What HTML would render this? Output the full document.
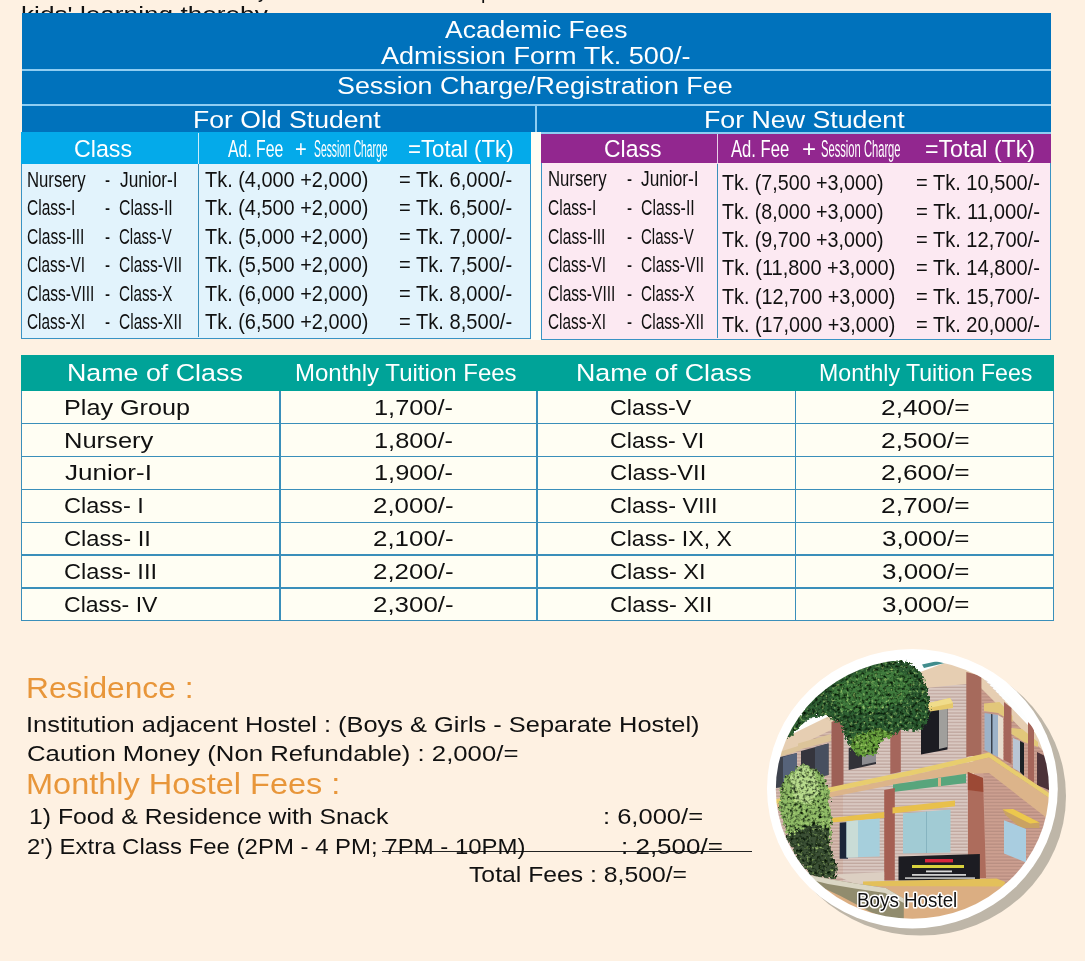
<!DOCTYPE html>
<html lang="en">
<head>
<meta charset="utf-8">
<title>Academic Fees</title>
<style>
html,body{margin:0;padding:0}
body{width:1085px;height:961px;position:relative;overflow:hidden;background:#fef1e2;font-family:"Liberation Sans",sans-serif}
.t{position:absolute;white-space:pre;line-height:1;transform-origin:0 0;z-index:3}
.b{position:absolute;box-sizing:border-box}
.hdr{left:22px;top:13px;width:1029px;height:120px;background:#0072bc;z-index:1}
.ln{position:absolute;background:#8fcdf2;z-index:2}
.old-h{left:21.3px;top:132px;width:509.5px;height:31.7px;background:#04aaea;z-index:2}
.old-b{left:21.3px;top:163.7px;width:510.2px;height:175px;background:#e2f3fc;border:1.3px solid #3a93c4;border-top:0;z-index:2}
.new-h{left:541.2px;top:133.5px;width:510.2px;height:29.5px;background:#92278f;z-index:2}
.new-b{left:541.2px;top:163px;width:510.2px;height:176.6px;background:#fce9f2;border:1.3px solid #3a93c4;border-top:0;z-index:2}
.tu-h{left:21.3px;top:354.9px;width:1032.6px;height:36px;background:#00a398;z-index:2}
.tu-b{left:21.3px;top:390.8px;width:1032.6px;height:230.7px;background:#fffef3;border:1.3px solid #3a8fba;border-top:0;z-index:2}
.gl{position:absolute;background:#3a8fba;z-index:2}
</style>
</head>
<body>
<div class="b hdr"></div>
<div class="ln" style="left:22px;top:69.3px;width:1029px;height:1.5px"></div>
<div class="ln" style="left:22px;top:104px;width:1029px;height:1.5px"></div>
<div class="ln" style="left:535.3px;top:105px;width:1.6px;height:27px"></div>
<div class="ln" style="left:541px;top:132px;width:510px;height:1.5px"></div>

<div class="b" style="left:531.4px;top:132px;width:9.8px;height:207.6px;background:#fffdf4;z-index:2"></div>
<div class="b old-h"></div>
<div class="b old-b"></div>
<div class="ln" style="left:197.8px;top:133px;width:1.3px;height:31px;background:#c8ecfb"></div>
<div class="gl" style="left:197.8px;top:164px;width:1.3px;height:173px"></div>

<div class="b new-h"></div>
<div class="b new-b"></div>
<div class="ln" style="left:716.5px;top:134px;width:1.3px;height:29.5px;background:#e9cfe8"></div>
<div class="gl" style="left:716.5px;top:163.5px;width:1.3px;height:174.5px"></div>

<div class="b tu-h"></div>
<div class="b tu-b"></div>
<div class="gl" style="left:21.8px;top:422.7px;width:1031.6px;height:1.5px"></div>
<div class="gl" style="left:21.8px;top:455.6px;width:1031.6px;height:1.5px"></div>
<div class="gl" style="left:21.8px;top:488.6px;width:1031.6px;height:1.5px"></div>
<div class="gl" style="left:21.8px;top:521.5px;width:1031.6px;height:1.5px"></div>
<div class="gl" style="left:21.8px;top:554.2px;width:1031.6px;height:1.5px"></div>
<div class="gl" style="left:21.8px;top:587px;width:1031.6px;height:1.5px"></div>
<div class="gl" style="left:279px;top:390.5px;width:1.5px;height:230px"></div>
<div class="gl" style="left:536.2px;top:390.5px;width:1.5px;height:230px"></div>
<div class="gl" style="left:794.7px;top:390.5px;width:1.5px;height:230px"></div>

<div class="b" style="left:382px;top:851.1px;width:370px;height:1.3px;background:#222;z-index:2"></div>

<svg style="position:absolute;left:755px;top:640px;z-index:2" width="330" height="321" viewBox="755 640 330 321">
<defs>
<clipPath id="pc"><ellipse cx="912.4" cy="789.2" rx="136.6" ry="129.6"/></clipPath>
<pattern id="br" width="6" height="3.2" patternUnits="userSpaceOnUse"><rect width="6" height="3.2" fill="none"/><rect y="2" width="6" height="1.1" fill="#9a7468" opacity=".45"/></pattern>
<filter id="fol" x="-10%" y="-10%" width="120%" height="120%" color-interpolation-filters="sRGB">
<feTurbulence type="fractalNoise" baseFrequency="0.32" numOctaves="2" seed="4" result="n"/>
<feDisplacementMap in="SourceGraphic" in2="n" scale="8" xChannelSelector="R" yChannelSelector="G" result="d"/>
<feColorMatrix in="n" type="matrix" values="0 0 0 0 0  0 0 0 0 0.05  0 0 0 0 0  0 2.4 0 0 -1.05" result="dk"/>
<feComposite in="dk" in2="d" operator="in" result="spk"/>
<feColorMatrix in="n" type="matrix" values="0 0 0 0 0.75  0 0 0 0 0.9  0 0 0 0 0.5  0 0 2.6 0 -1.5" result="lt"/>
<feComposite in="lt" in2="d" operator="in" result="spl"/>
<feMerge><feMergeNode in="d"/><feMergeNode in="spk"/><feMergeNode in="spl"/></feMerge>
</filter>
<filter id="soft" x="-5%" y="-5%" width="110%" height="110%"><feGaussianBlur stdDeviation="0.55"/></filter>
</defs>
<ellipse cx="920.6" cy="795.9" rx="145.4" ry="139.7" fill="#beb6a8"/>
<ellipse cx="912.4" cy="788.7" rx="145.4" ry="139.7" fill="#fff"/>
<g clip-path="url(#pc)"><g filter="url(#soft)">
<rect x="770" y="655" width="290" height="270" fill="#fdfefe"/>
<!-- front wall -->
<polygon points="770,752 951,663 967,670 968,886 770,886" fill="#d6bcb0"/>
<polygon points="843,722 951,668 967,674 968,886 843,886" fill="#d9c8c1"/>
<polygon points="770,752 951,663 967,670 968,886 770,886" fill="url(#br)"/>
<!-- right face -->
<polygon points="974,674 1060,762 1060,900 974,880" fill="#cc9f90"/>
<polygon points="981,674 1060,762 1060,900 986,880" fill="url(#br)"/>
<!-- roof overhang underside / fascia -->
<polygon points="770,745 915,674 951,660.5 968,670 981,676 1048,746 1048,756 981,688 966,684 915,689 843,724 770,760" fill="#e6ceb2"/>
<polygon points="922,664.5 949.5,658.5 951,661.5 924,668" fill="#3f8c8c"/>
<!-- upper-left windows -->
<polygon points="779,752 800,745.5 800,750.5 779,757" fill="#dcc49a"/>
<polygon points="798,743.5 831,734 831,741 798,750" fill="#dcc49a"/>
<polygon points="776,758 797,753 797,785 776,788" fill="#3c424e"/>
<polygon points="783,757 797,753 797,781 783,784" fill="#56647a"/>
<polygon points="801,751 828.5,743.5 828.5,775 801,780" fill="#34343e"/>
<polygon points="815,747 828.5,743.5 828.5,775 815,777" fill="#47505e"/>
<!-- pillars upper -->
<polygon points="831.5,722 843.5,717 843.5,786 831.5,789" fill="#9d6056"/>
<polygon points="890.3,733 900.8,730 900.8,772 890.3,774" fill="#a5665b"/>
<!-- window under tree -->
<polygon points="848.7,748 876,742 876,764 848.7,770" fill="#313038"/>
<polygon points="862,756 876,753 876,762 862,765" fill="#8d8c90"/>
<!-- upper right front window -->
<polygon points="921,712 947.5,706 947.5,749.5 921,754.5" fill="#1d1d24"/>
<polygon points="939,706 947.5,704.5 947.5,747 939,749" fill="#a09f9c"/>
<polygon points="927,703.5 950,698 953,703 953,708 930,711.5" fill="#e6c96c"/>
<polygon points="927,703.5 950,698 953,703 929,708" fill="#f0dc8a"/>
<!-- corner pillar -->
<polygon points="966.3,672 981.4,676 981.4,755 966.3,757" fill="#a66a5c"/>
<!-- right face upper details -->
<polygon points="984,703.5 999.5,702 1012.5,716 1012.5,722 998,713 984,711" fill="#e2c77a"/>
<polygon points="984.5,713 998,715 998,757 984.5,750" fill="#9db2c8"/>
<polygon points="991,714 992.5,714.3 992.5,754 991,753.3" fill="#39404c"/>
<polygon points="998,715 1003,718 1003,760 998,757" fill="#e8dccd"/>
<polygon points="1004,702 1011.5,708 1011.5,764 1004,760" fill="#a5655a"/>
<polygon points="1011.5,728 1022,729 1038,742 1038,747 1024,742 1011.5,734" fill="#e2c77a"/>
<polygon points="1013,738 1020,741 1020,772 1013,768" fill="#b9c6d4"/>
<polygon points="1020,741 1024,743 1024,776 1020,772" fill="#1f2026"/>
<polygon points="1028,722 1034,728 1034,783 1028,779" fill="#a5655a"/>
<polygon points="1037,752 1049,758 1049,790 1037,785" fill="#4b3038"/>
<!-- mid ledge -->
<polygon points="770,806 831.4,792 915,774.5 989,757.5 1052,800 1052,822 989,773 967,774 915,780.5 831.4,797 770,810" fill="#dcb48a"/>
<polygon points="770,800.5 831.4,787 915,769.5 989,752.5 1052,795 1052,800 989,757.5 915,774.5 831.4,792 770,805.5" fill="#e8cd6e"/>
<!-- green sign & lower pillar top -->
<polygon points="893,784.5 966,773.8 966,783 893,792" fill="#58a57c"/>
<polygon points="938,778 941,777.6 941,786 938,786.4" fill="#dcb48a"/>
<polygon points="967.8,772 983,778 986,878 968,878" fill="#ad6c5c"/>
<polygon points="967.8,772 983,778 983.3,792 967.8,790" fill="#9c4a36"/>
<!-- lower right face -->
<polygon points="1002.5,809.6 1013,808.9 1039.5,822.4 1039.5,828 1020.6,828 1005.5,815" fill="#caa262"/>
<polygon points="1002.5,809.6 1013,808.9 1039.5,822.4 1030,823.5" fill="#ecc84e"/>
<polygon points="1004,820.2 1026,829 1026,862.4 1004,853.4" fill="#a9cde0"/>
<!-- ground floor front: windows, shades, pillars -->
<polygon points="884.2,790 894.8,788 894.8,880.5 884.2,880.5" fill="#a55f52"/>
<polygon points="831.4,817.9 884.2,811.9 884.2,817.9 831.4,822.6" fill="#e8c04c"/>
<polygon points="839.7,822.8 848,822 848,858.7 839.7,858.7" fill="#1c2838"/>
<polygon points="846.5,821.5 879.7,818.5 879.7,856.5 846.5,857.5" fill="#a6cfdc"/>
<polygon points="846.5,821.5 858,820.5 858,857.2 846.5,857.5" fill="#c9dcd6"/>
<polygon points="892.5,807.5 955,800.5 955,806.3 892.5,813.4" fill="#e8c04c"/>
<polygon points="903,813.5 950.5,809.5 950.5,852.6 903,853.4" fill="#a1cbd4"/>
<polygon points="926,811.7 927,811.6 927,853 926,853" fill="#86b4c0"/>
<!-- sign board -->
<polygon points="898.5,856.4 979.9,854 979.9,880.5 898.5,880.5" fill="#1f1f22"/>
<rect x="925" y="859" width="28" height="3.4" fill="#d8283c"/>
<rect x="912" y="865" width="52" height="3" fill="#d8d23c"/>
<rect x="926" y="870.5" width="26" height="1.8" fill="#d9d9d9"/>
<rect x="912" y="874" width="54" height="1.8" fill="#cfcfcf"/>
<rect x="905" y="877.3" width="70" height="1.6" fill="#c4c4c4"/>
<!-- ground -->
<polygon points="834,874.5 884.2,872 884.2,882 855,884" fill="#dccfc2"/>
<polygon points="770,886 1060,886 1060,930 770,930" fill="#dbae82"/>
<polygon points="863,881.5 996.5,878.5 1005.5,882 1003,886.5 863,886" fill="#e3c05a"/>
<!-- trees --><g filter="url(#fol)">
<path d="M786,737 L792,723 L804,708 L815,695 L830,683 L846,672 L865,663 L889,659 L907,661.5 L915,667.5 L922.5,675 L928.6,695 L930,717 L921,729.5 L915,731 L901,729.5 L893,735.5 L880,741.5 L877,753.5 L858.6,756.7 L851,747.6 L845,735.5 L840.5,723.5 L825.4,716 L810.3,717.4 L799.7,726.5 L789,738.6 Z" fill="#2f5e33"/>
<path d="M852,736 L880,728 L893,735.5 L880,741.5 L877,753.5 L858.6,756.7 L851,747.6 Z" fill="#6aa23e"/>
<path d="M830,690 L860,672 L895,668 L915,680 L905,700 L870,712 L840,710 Z" fill="#3f7a3c"/>
<path d="M780,790 L785,777 L795,770 L803,762.5 L812,768 L820,772 L826,781 L829,790 L831.4,820 L830,853.4 L837.4,868.5 L834.4,879 L810.3,874.5 L795.2,850.4 L783.1,823.2 L778.6,805 Z" fill="#8fba66"/>
<path d="M786,836 L800,829 L815,824 L829,829 L831,853.4 L838,868.5 L835,879 L810.3,876 L797,858 Z" fill="#3b5034"/>
<path d="M790,776 L803,764 L815,772 L820,790 L810,805 L795,800 Z" fill="#b7da8c"/>
</g><!-- low wall -->
<polygon points="810.3,875.3 828.4,879 855.5,883.6 885.7,888 903.8,898.6 903.8,925 870.6,912 840.5,896 814.8,884" fill="#918c6e"/>
<polygon points="810.3,875.3 828.4,879 855.5,883.6 885.7,888 903.8,898.6 903.8,903 885,893 855,888.5 828,884 812,880" fill="#dad6c4"/>
</g><text x="857" y="907" font-family="'Liberation Sans',sans-serif" font-size="20.9" textLength="100.3" lengthAdjust="spacingAndGlyphs" fill="#111" stroke="#fff" stroke-width="3.2" stroke-linejoin="round" paint-order="stroke">Boys Hostel</text>

</g>
</svg>

<span class="t" style="left:21.10px;top:4px;font-size:21.8px;color:#111;transform:scaleX(1.2021);z-index:0;">kids&#x27; learning thereby</span>
<span class="t" style="left:257.50px;top:-21px;font-size:21.8px;color:#111;transform:scaleX(0.9091);z-index:0;">y</span>
<span class="t" style="left:480.59px;top:-20px;font-size:21.8px;color:#111;transform:scaleX(0.9091);z-index:0;">p</span>
<span class="t" style="left:444.50px;top:19px;font-size:23.55px;color:#fff;transform:scaleX(1.1238);">Academic Fees</span>
<span class="t" style="left:380.80px;top:45px;font-size:23.55px;color:#fff;transform:scaleX(1.1500);">Admission Form Tk. 500/-</span>
<span class="t" style="left:336.86px;top:75px;font-size:23.55px;color:#fff;transform:scaleX(1.1407);">Session Charge/Registration Fee</span>
<span class="t" style="left:193.37px;top:109px;font-size:23.55px;color:#fff;transform:scaleX(1.1293);">For Old Student</span>
<span class="t" style="left:703.86px;top:109px;font-size:23.55px;color:#fff;transform:scaleX(1.1355);">For New Student</span>
<span class="t" style="left:73.72px;top:138px;font-size:23.69px;color:#fff;transform:scaleX(0.9811);">Class</span>
<span class="t" style="left:227.70px;top:138px;font-size:23.69px;color:#fff;transform:scaleX(0.6668);">Ad. Fee</span>
<span class="t" style="left:294.95px;top:138px;font-size:23.69px;color:#fff;transform:scaleX(0.8500);">+</span>
<span class="t" style="left:313.56px;top:138px;font-size:23.69px;color:#fff;transform:scaleX(0.4362);">Session Charge</span>
<span class="t" style="left:407.86px;top:138px;font-size:23.69px;color:#fff;transform:scaleX(0.9381);">=Total (Tk)</span>
<span class="t" style="left:604.43px;top:138px;font-size:23.69px;color:#fff;transform:scaleX(0.9689);">Class</span>
<span class="t" style="left:731.00px;top:138px;font-size:23.69px;color:#fff;transform:scaleX(0.7007);">Ad. Fee</span>
<span class="t" style="left:801.58px;top:138px;font-size:23.69px;color:#fff;transform:scaleX(1.0167);">+</span>
<span class="t" style="left:820.83px;top:138px;font-size:23.69px;color:#fff;transform:scaleX(0.4720);">Session Charge</span>
<span class="t" style="left:925.02px;top:138px;font-size:23.69px;color:#fff;transform:scaleX(0.9779);">=Total (Tk)</span>
<span class="t" style="left:26.62px;top:170px;font-size:21.37px;color:#111;transform:scaleX(0.7828);">Nursery</span>
<span class="t" style="left:105.00px;top:170px;font-size:21.37px;color:#111;transform:scaleX(0.7143);">-</span>
<span class="t" style="left:119.50px;top:170px;font-size:21.37px;color:#111;transform:scaleX(0.8082);">Junior-I</span>
<span class="t" style="left:548.42px;top:169px;font-size:21.37px;color:#111;transform:scaleX(0.7828);">Nursery</span>
<span class="t" style="left:627.00px;top:169px;font-size:21.37px;color:#111;transform:scaleX(0.7143);">-</span>
<span class="t" style="left:641.40px;top:169px;font-size:21.37px;color:#111;transform:scaleX(0.8082);">Junior-I</span>
<span class="t" style="left:26.67px;top:198px;font-size:21.37px;color:#111;transform:scaleX(0.7257);">Class-I</span>
<span class="t" style="left:105.00px;top:198px;font-size:21.37px;color:#111;transform:scaleX(0.7143);">-</span>
<span class="t" style="left:118.76px;top:198px;font-size:21.37px;color:#111;transform:scaleX(0.7415);">Class-II</span>
<span class="t" style="left:548.47px;top:198px;font-size:21.37px;color:#111;transform:scaleX(0.7257);">Class-I</span>
<span class="t" style="left:627.00px;top:198px;font-size:21.37px;color:#111;transform:scaleX(0.7143);">-</span>
<span class="t" style="left:640.66px;top:198px;font-size:21.37px;color:#111;transform:scaleX(0.7415);">Class-II</span>
<span class="t" style="left:26.67px;top:227px;font-size:21.37px;color:#111;transform:scaleX(0.7335);">Class-III</span>
<span class="t" style="left:105.00px;top:227px;font-size:21.37px;color:#111;transform:scaleX(0.7143);">-</span>
<span class="t" style="left:118.80px;top:227px;font-size:21.37px;color:#111;transform:scaleX(0.7045);">Class-V</span>
<span class="t" style="left:548.47px;top:227px;font-size:21.37px;color:#111;transform:scaleX(0.7335);">Class-III</span>
<span class="t" style="left:627.00px;top:227px;font-size:21.37px;color:#111;transform:scaleX(0.7143);">-</span>
<span class="t" style="left:640.70px;top:227px;font-size:21.37px;color:#111;transform:scaleX(0.7045);">Class-V</span>
<span class="t" style="left:26.68px;top:255px;font-size:21.37px;color:#111;transform:scaleX(0.7201);">Class-VI</span>
<span class="t" style="left:105.00px;top:255px;font-size:21.37px;color:#111;transform:scaleX(0.7143);">-</span>
<span class="t" style="left:118.77px;top:255px;font-size:21.37px;color:#111;transform:scaleX(0.7276);">Class-VII</span>
<span class="t" style="left:548.48px;top:255px;font-size:21.37px;color:#111;transform:scaleX(0.7201);">Class-VI</span>
<span class="t" style="left:627.00px;top:255px;font-size:21.37px;color:#111;transform:scaleX(0.7143);">-</span>
<span class="t" style="left:640.67px;top:255px;font-size:21.37px;color:#111;transform:scaleX(0.7276);">Class-VII</span>
<span class="t" style="left:26.67px;top:284px;font-size:21.37px;color:#111;transform:scaleX(0.7274);">Class-VIII</span>
<span class="t" style="left:105.00px;top:284px;font-size:21.37px;color:#111;transform:scaleX(0.7143);">-</span>
<span class="t" style="left:118.79px;top:284px;font-size:21.37px;color:#111;transform:scaleX(0.7141);">Class-X</span>
<span class="t" style="left:548.47px;top:284px;font-size:21.37px;color:#111;transform:scaleX(0.7274);">Class-VIII</span>
<span class="t" style="left:627.00px;top:284px;font-size:21.37px;color:#111;transform:scaleX(0.7143);">-</span>
<span class="t" style="left:640.69px;top:284px;font-size:21.37px;color:#111;transform:scaleX(0.7141);">Class-X</span>
<span class="t" style="left:26.68px;top:312px;font-size:21.37px;color:#111;transform:scaleX(0.7201);">Class-XI</span>
<span class="t" style="left:105.00px;top:312px;font-size:21.37px;color:#111;transform:scaleX(0.7143);">-</span>
<span class="t" style="left:118.77px;top:312px;font-size:21.37px;color:#111;transform:scaleX(0.7276);">Class-XII</span>
<span class="t" style="left:548.48px;top:312px;font-size:21.37px;color:#111;transform:scaleX(0.7201);">Class-XI</span>
<span class="t" style="left:627.00px;top:312px;font-size:21.37px;color:#111;transform:scaleX(0.7143);">-</span>
<span class="t" style="left:640.67px;top:312px;font-size:21.37px;color:#111;transform:scaleX(0.7276);">Class-XII</span>
<span class="t" style="left:205.20px;top:169px;font-size:21.8px;color:#111;transform:scaleX(0.9140);">Tk. (4,000 +2,000)</span>
<span class="t" style="left:399.38px;top:169px;font-size:21.8px;color:#111;transform:scaleX(0.9227);">= Tk. 6,000/-</span>
<span class="t" style="left:205.20px;top:197px;font-size:21.8px;color:#111;transform:scaleX(0.9140);">Tk. (4,500 +2,000)</span>
<span class="t" style="left:399.38px;top:197px;font-size:21.8px;color:#111;transform:scaleX(0.9227);">= Tk. 6,500/-</span>
<span class="t" style="left:205.20px;top:226px;font-size:21.8px;color:#111;transform:scaleX(0.9140);">Tk. (5,000 +2,000)</span>
<span class="t" style="left:399.38px;top:226px;font-size:21.8px;color:#111;transform:scaleX(0.9227);">= Tk. 7,000/-</span>
<span class="t" style="left:205.20px;top:254px;font-size:21.8px;color:#111;transform:scaleX(0.9140);">Tk. (5,500 +2,000)</span>
<span class="t" style="left:399.38px;top:254px;font-size:21.8px;color:#111;transform:scaleX(0.9227);">= Tk. 7,500/-</span>
<span class="t" style="left:205.20px;top:283px;font-size:21.8px;color:#111;transform:scaleX(0.9140);">Tk. (6,000 +2,000)</span>
<span class="t" style="left:399.38px;top:283px;font-size:21.8px;color:#111;transform:scaleX(0.9227);">= Tk. 8,000/-</span>
<span class="t" style="left:205.20px;top:311px;font-size:21.8px;color:#111;transform:scaleX(0.9140);">Tk. (6,500 +2,000)</span>
<span class="t" style="left:399.38px;top:311px;font-size:21.8px;color:#111;transform:scaleX(0.9227);">= Tk. 8,500/-</span>
<span class="t" style="left:722.30px;top:172px;font-size:21.8px;color:#111;transform:scaleX(0.9033);">Tk. (7,500 +3,000)</span>
<span class="t" style="left:915.58px;top:172px;font-size:21.8px;color:#111;transform:scaleX(0.9205);">= Tk. 10,500/-</span>
<span class="t" style="left:722.30px;top:201px;font-size:21.8px;color:#111;transform:scaleX(0.9033);">Tk. (8,000 +3,000)</span>
<span class="t" style="left:915.57px;top:201px;font-size:21.8px;color:#111;transform:scaleX(0.9318);">= Tk. 11,000/-</span>
<span class="t" style="left:722.30px;top:229px;font-size:21.8px;color:#111;transform:scaleX(0.9033);">Tk. (9,700 +3,000)</span>
<span class="t" style="left:915.58px;top:229px;font-size:21.8px;color:#111;transform:scaleX(0.9205);">= Tk. 12,700/-</span>
<span class="t" style="left:722.30px;top:257px;font-size:21.8px;color:#111;transform:scaleX(0.9161);">Tk. (11,800 +3,000)</span>
<span class="t" style="left:915.58px;top:257px;font-size:21.8px;color:#111;transform:scaleX(0.9205);">= Tk. 14,800/-</span>
<span class="t" style="left:722.30px;top:286px;font-size:21.8px;color:#111;transform:scaleX(0.9083);">Tk. (12,700 +3,000)</span>
<span class="t" style="left:915.58px;top:286px;font-size:21.8px;color:#111;transform:scaleX(0.9205);">= Tk. 15,700/-</span>
<span class="t" style="left:722.30px;top:314px;font-size:21.8px;color:#111;transform:scaleX(0.9083);">Tk. (17,000 +3,000)</span>
<span class="t" style="left:915.58px;top:314px;font-size:21.8px;color:#111;transform:scaleX(0.9205);">= Tk. 20,000/-</span>
<span class="t" style="left:66.57px;top:362px;font-size:23.69px;color:#fff;transform:scaleX(1.1317);">Name of Class</span>
<span class="t" style="left:295.19px;top:362px;font-size:23.69px;color:#fff;transform:scaleX(1.0141);">Monthly Tuition Fees</span>
<span class="t" style="left:576.27px;top:362px;font-size:23.69px;color:#fff;transform:scaleX(1.1304);">Name of Class</span>
<span class="t" style="left:819.02px;top:362px;font-size:23.69px;color:#fff;transform:scaleX(0.9763);">Monthly Tuition Fees</span>
<span class="t" style="left:64.01px;top:397px;font-size:21.22px;color:#111;transform:scaleX(1.1865);">Play Group</span>
<span class="t" style="left:374.40px;top:397px;font-size:21.22px;color:#111;transform:scaleX(1.1955);">1,700/-</span>
<span class="t" style="left:609.90px;top:397px;font-size:21.22px;color:#111;transform:scaleX(1.0955);">Class-V</span>
<span class="t" style="left:880.76px;top:397px;font-size:21.22px;color:#111;transform:scaleX(1.2401);">2,400/=</span>
<span class="t" style="left:64.00px;top:430px;font-size:21.22px;color:#111;transform:scaleX(1.2027);">Nursery</span>
<span class="t" style="left:374.40px;top:430px;font-size:21.22px;color:#111;transform:scaleX(1.1955);">1,800/-</span>
<span class="t" style="left:609.91px;top:430px;font-size:21.22px;color:#111;transform:scaleX(1.0941);">Class- VI</span>
<span class="t" style="left:880.76px;top:430px;font-size:21.22px;color:#111;transform:scaleX(1.2401);">2,500/=</span>
<span class="t" style="left:65.20px;top:462px;font-size:21.22px;color:#111;transform:scaleX(1.2286);">Junior-I</span>
<span class="t" style="left:374.40px;top:462px;font-size:21.22px;color:#111;transform:scaleX(1.1955);">1,900/-</span>
<span class="t" style="left:609.88px;top:462px;font-size:21.22px;color:#111;transform:scaleX(1.1182);">Class-VII</span>
<span class="t" style="left:880.76px;top:462px;font-size:21.22px;color:#111;transform:scaleX(1.2401);">2,600/=</span>
<span class="t" style="left:64.09px;top:495px;font-size:21.22px;color:#111;transform:scaleX(1.1098);">Class- I</span>
<span class="t" style="left:372.78px;top:495px;font-size:21.22px;color:#111;transform:scaleX(1.2201);">2,000/-</span>
<span class="t" style="left:609.90px;top:495px;font-size:21.22px;color:#111;transform:scaleX(1.0983);">Class- VIII</span>
<span class="t" style="left:880.76px;top:495px;font-size:21.22px;color:#111;transform:scaleX(1.2401);">2,700/=</span>
<span class="t" style="left:64.08px;top:528px;font-size:21.22px;color:#111;transform:scaleX(1.1160);">Class- II</span>
<span class="t" style="left:372.78px;top:528px;font-size:21.22px;color:#111;transform:scaleX(1.2201);">2,100/-</span>
<span class="t" style="left:609.91px;top:528px;font-size:21.22px;color:#111;transform:scaleX(1.0879);">Class- IX, X</span>
<span class="t" style="left:882.00px;top:528px;font-size:21.22px;color:#111;transform:scaleX(1.2226);">3,000/=</span>
<span class="t" style="left:64.09px;top:561px;font-size:21.22px;color:#111;transform:scaleX(1.1113);">Class- III</span>
<span class="t" style="left:372.78px;top:561px;font-size:21.22px;color:#111;transform:scaleX(1.2201);">2,200/-</span>
<span class="t" style="left:609.89px;top:561px;font-size:21.22px;color:#111;transform:scaleX(1.1110);">Class- XI</span>
<span class="t" style="left:882.00px;top:561px;font-size:21.22px;color:#111;transform:scaleX(1.2226);">3,000/=</span>
<span class="t" style="left:64.11px;top:594px;font-size:21.22px;color:#111;transform:scaleX(1.0860);">Class- IV</span>
<span class="t" style="left:372.78px;top:594px;font-size:21.22px;color:#111;transform:scaleX(1.2201);">2,300/-</span>
<span class="t" style="left:609.89px;top:594px;font-size:21.22px;color:#111;transform:scaleX(1.1115);">Class- XII</span>
<span class="t" style="left:882.00px;top:594px;font-size:21.22px;color:#111;transform:scaleX(1.2226);">3,000/=</span>
<span class="t" style="left:26.18px;top:673px;font-size:29.94px;color:#e8963a;transform:scaleX(1.0593);">Residence :</span>
<span class="t" style="left:25.97px;top:714px;font-size:21.8px;color:#111;transform:scaleX(1.1655);">Institution adjacent Hostel : (Boys &amp; Girls - Separate Hostel)</span>
<span class="t" style="left:27.12px;top:743px;font-size:21.8px;color:#111;transform:scaleX(1.1807);">Caution Money (Non Refundable) : 2,000/=</span>
<span class="t" style="left:26.13px;top:769px;font-size:29.94px;color:#e8963a;transform:scaleX(1.0859);">Monthly Hostel Fees :</span>
<span class="t" style="left:28.56px;top:806px;font-size:21.8px;color:#111;transform:scaleX(1.1363);">1) Food &amp; Residence with Snack</span>
<span class="t" style="left:603.03px;top:806px;font-size:21.8px;color:#111;transform:scaleX(1.1707);">: 6,000/=</span>
<span class="t" style="left:27.20px;top:836px;font-size:21.8px;color:#111;transform:scaleX(1.0991);">2&#x27;) Extra Class Fee (2PM - 4 PM; 7PM - 10PM)</span>
<span class="t" style="left:620.51px;top:836px;font-size:21.8px;color:#111;transform:scaleX(1.1922);">: 2,500/=</span>
<span class="t" style="left:469.30px;top:864px;font-size:21.8px;color:#111;transform:scaleX(1.1352);">Total Fees : 8,500/=</span>
</body>
</html>
